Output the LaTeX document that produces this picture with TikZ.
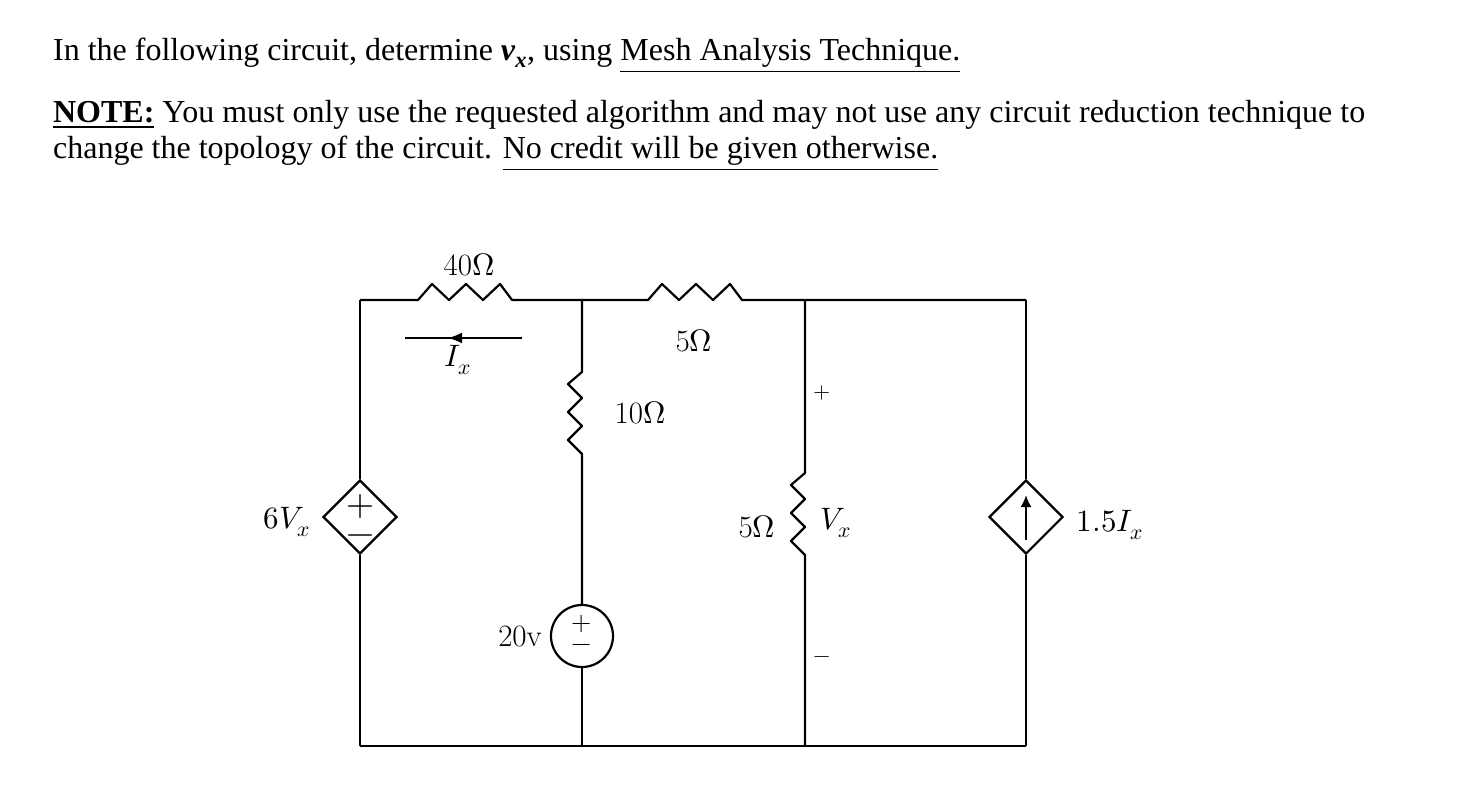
\documentclass[tikz,border=0pt]{standalone}
\usepackage{fontspec}
\setmainfont{Liberation Serif}
\newfontfamily\lmfont{Latin Modern Roman}
\usepackage{unicode-math}
\setmathfont{Latin Modern Math}
\usetikzlibrary{shapes.geometric,arrows.meta}
\newcommand{\ul}[1]{\underline{#1}}
\begin{document}
\begin{tikzpicture}[x=1pt,y=-1pt,line width=2.2pt,
  lbl/.style={font=\lmfont\fontsize{31}{34}\selectfont,inner sep=0},
  txt/.style={font=\fontsize{32}{36}\selectfont,anchor=base west,inner sep=0}]
\useasboundingbox (0,0) rectangle (1478,808);
\node[txt] (t1) at (52,60) {In the following circuit, determine \textbf{\textit{v}}\textsubscript{\textbf{\textit{x}}}, using \ul{Mesh Analysis Technique.}};
\node[txt] (t2) at (52,122) {\ul{\textbf{NOTE:}} You must only use the requested algorithm and may not use any circuit reduction technique to};
\node[txt] (t3) at (52,158) {change the topology of the circuit. \ul{No credit will be given otherwise.}};
% corners
\coordinate (TL) at (360,300); \coordinate (TM) at (582,300); \coordinate (TR1) at (805,300); \coordinate (TR) at (1026,300);
\coordinate (BL) at (360,746); \coordinate (BM) at (582,746); \coordinate (BR1) at (805,746); \coordinate (BR) at (1026,746);
% top wire with resistors
\draw[line join=round] (TL) -- (418,300) -- (432,284) -- (449,300) -- (466,284) -- (483,300) -- (500,284) -- (512,300) -- (TM);
\draw[line join=round] (TM) -- (648,300) -- (662,284) -- (679,300) -- (696,284) -- (713,300) -- (730,284) -- (742,300) -- (TR1) -- (TR);
% bottom
\draw (BL) -- (BM) -- (BR1) -- (BR);
% left branch with diamond
\node[draw,diamond,minimum width=74pt,minimum height=74pt,inner sep=0] (D1) at (360,517) {};
\draw (TL) -- (D1.north) (D1.south) -- (BL);
\node[lbl,font=\lmfont\fontsize{36}{36}\selectfont] (p1) at (360,506) {$+$};
\node[lbl,font=\lmfont\fontsize{36}{36}\selectfont] (m1) at (360,540) {$-$};
% middle branch
\draw[line join=round] (TM) -- (582,372) -- (568,384) -- (582,398) -- (568,412) -- (582,426) -- (568,440) -- (582,454) -- (582,605);
\node[draw,circle,minimum size=62pt,inner sep=0] (S) at (582,636) {};
\draw (S.south) -- (BM);
\node[lbl,font=\lmfont\fontsize{26}{26}\selectfont] at (582,624) {$+$};
\node[lbl,font=\lmfont\fontsize{26}{26}\selectfont] at (582,648) {$-$};
% right-middle branch
\draw[line join=round] (TR1) -- (805,473) -- (791,485) -- (805,499) -- (791,513) -- (805,527) -- (791,541) -- (805,555) -- (805,580) -- (BR1);
% right branch with dependent current source
\node[draw,diamond,minimum width=74pt,minimum height=74pt,inner sep=0] (D2) at (1026,517) {};
\draw (TR) -- (D2.north) (D2.south) -- (BR);
\draw[-{Latex[length=12pt,width=11pt]}] (1026,540) -- (1026,495);
% Ix arrow
\draw[line width=1.6pt] (405,338) -- (522,338);
\draw[line width=1.6pt,-{Latex[length=14pt,width=11pt]}] (470,338) -- (448,338);
% labels
\node[lbl] at (469,265) {40$\Omega$};
\node[lbl] at (458,360) {$I_x$};
\node[lbl] at (694,341) {5$\Omega$};
\node[lbl] at (640,413) {10$\Omega$};
\node[lbl] at (287,522) {$6V_x$};
\node[lbl] at (757,527) {5$\Omega$};
\node[lbl] at (836,523) {$V_x$};
\node[lbl] at (1110,525) {$1.5I_x$};
\node[lbl] at (520,636) {20v};
\node[lbl,font=\lmfont\fontsize{22}{24}\selectfont] at (822,393) {$+$};
\node[lbl,font=\lmfont\fontsize{22}{24}\selectfont] at (822,660) {$-$};
\end{tikzpicture}
\end{document}
